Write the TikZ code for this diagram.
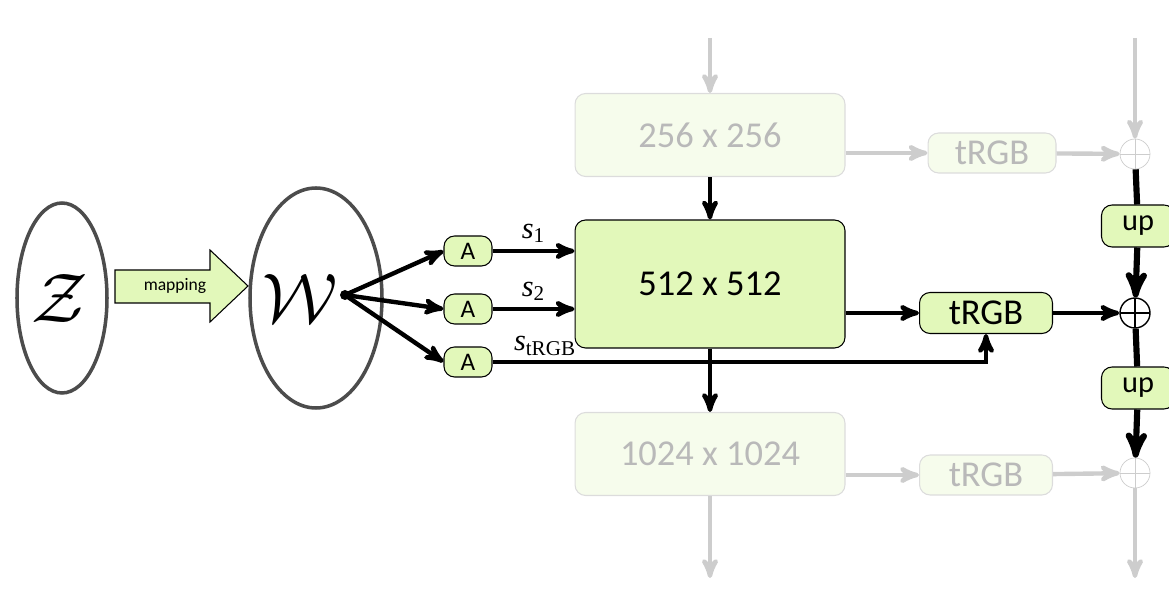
\documentclass[tikz,border=0pt]{standalone}
\usepackage{amsmath,amssymb}
\usepackage{fontspec}
\setmainfont{Carlito}
\newfontfamily\serifrm{Liberation Serif}
\usetikzlibrary{positioning,arrows}
\definecolor{boxgreen}{RGB}{226,248,186}
\definecolor{fadegreen}{RGB}{246,252,236}
\definecolor{fadeline}{RGB}{205,205,205}
\begin{document}
\begin{tikzpicture}[x=0.02cm,y=-0.02cm,>=stealth',
  blk/.style={draw,rounded corners=6pt,fill=boxgreen,line width=0.6pt},
  fade/.style={draw=fadeline!70,rounded corners=6pt,fill=fadegreen,text=fadeline!90!black,line width=0.6pt},
  thick arr/.style={->,line width=2.5pt},
  gray arr/.style={->,line width=2.5pt,draw=fadeline},
  plus/.style={draw,circle,minimum size=0.6cm,inner sep=0pt,path picture={
    \draw (path picture bounding box.north) -- (path picture bounding box.south)
          (path picture bounding box.west) -- (path picture bounding box.east);}}]
\useasboundingbox (0,0) rectangle (1169,590);
% latent spaces
\draw[line width=2pt,draw=black!70] (62,298) ellipse [x radius=45,y radius=95];
\node (z) at (60,298) {\scalebox{4}{$\mathcal{Z}$}};
\draw[line width=2pt,draw=black!70] (316,298) ellipse [x radius=66,y radius=110];
\node (w) at (300,298) {\scalebox{4}{$\mathcal{W}$}};
\draw[fill=boxgreen,line width=0.6pt] (115,270) -- (210,270) -- (210,250) -- (248,286)
  -- (210,322) -- (210,303) -- (115,303) -- cycle;
\node[font=\normalsize] (map) at (175,286) {mapping};
\fill (345,295) circle (5) coordinate (dot);
% styles
\node[blk,minimum width=0.96cm,minimum height=0.6cm,font=\Large] (a1) at (468,251) {A};
\node[blk,minimum width=0.96cm,minimum height=0.6cm,font=\Large] (a2) at (468,309) {A};
\node[blk,minimum width=0.96cm,minimum height=0.6cm,font=\Large] (a3) at (468,362) {A};
\draw[thick arr] (dot) -- (a1.west);
\draw[thick arr] (dot) -- (a2.west);
\draw[thick arr] (dot) -- (a3.west);
% blocks
\node[blk,minimum width=5.4cm,minimum height=2.56cm,font=\huge] (b512) at (710,284) {512 x 512};
\node[fade,minimum width=5.4cm,minimum height=1.66cm,font=\huge] (b256) at (710,135) {256 x 256};
\node[fade,minimum width=5.4cm,minimum height=1.66cm,font=\huge] (b1024) at (710,454) {1024 x 1024};
\node[blk,minimum width=2.66cm,minimum height=0.82cm,font=\huge] (t2) at (986,313) {tRGB};
\node[fade,minimum width=2.56cm,minimum height=0.8cm,font=\huge] (t1) at (992,153) {tRGB};
\node[fade,minimum width=2.66cm,minimum height=0.8cm,font=\huge] (t3) at (986,475) {tRGB};
\node[plus,draw=fadeline] (p1) at (1135,154) {};
\node[plus,line width=0.8pt] (p2) at (1135,313) {};
\node[plus,draw=fadeline] (p3) at (1135,473) {};
\node[blk,minimum width=1.46cm,minimum height=0.84cm,font=\LARGE] (u1) at (1138,226) {up};
\node[blk,minimum width=1.46cm,minimum height=0.84cm,font=\LARGE] (u2) at (1138,388) {up};
\coordinate (ctop) at (710,38);
\coordinate (cbot) at (710,578);
\coordinate (ptop) at (1135,38);
\coordinate (pbot) at (1135,578);
% connections
\draw[thick arr] (a1.east) -- node[above,font=\LARGE\serifrm]{\textit{s}\textsubscript{1}} (a1.east -| b512.west);
\draw[thick arr] (a2.east) -- node[above,font=\LARGE\serifrm]{\textit{s}\textsubscript{2}} (a2.east -| b512.west);
\draw[thick arr] (a3.east) -- (a3.east -| t2.south) -- (t2.south);
\node[font=\LARGE\serifrm] (stl) at (545,346) {\textit{s}\textsubscript{tRGB}};
\draw[thick arr] (b256) -- (b512);
\draw[thick arr] (b512) -- (b1024);
\draw[thick arr] (b512.east |- t2) -- (t2);
\draw[thick arr] (t2) -- (p2);
\draw[line width=3.5pt] (p1) -- (u1);
\draw[->,line width=3.5pt] (u1) -- (p2);
\draw[line width=3.5pt] (p2) -- (u2);
\draw[->,line width=3.5pt] (u2) -- (p3);
\draw[gray arr] (ctop) -- (b256);
\draw[gray arr] (b1024) -- (cbot);
\draw[gray arr] (b256.east |- t1) -- (t1);
\draw[gray arr] (t1) -- (p1);
\draw[gray arr] (b1024.east |- t3) -- (t3);
\draw[gray arr] (t3) -- (p3);
\draw[gray arr] (ptop) -- (p1);
\draw[gray arr] (p3) -- (pbot);
\end{tikzpicture}
\end{document}
